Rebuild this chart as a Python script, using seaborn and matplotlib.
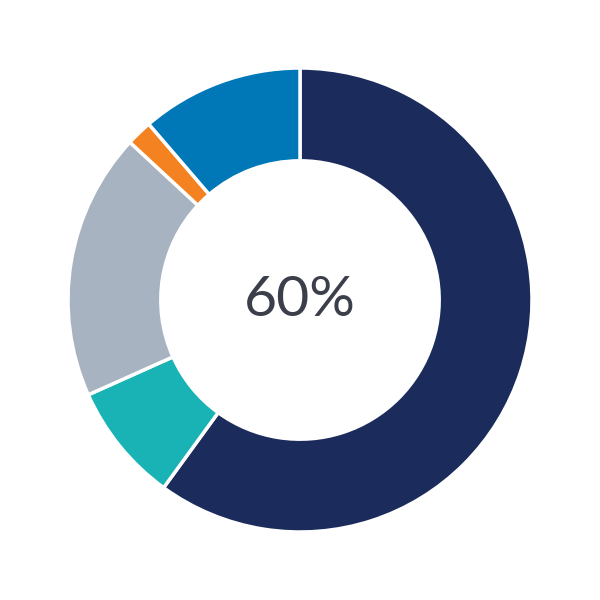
import matplotlib
matplotlib.use("Agg")
import matplotlib.pyplot as plt
import seaborn as sns

# slice shares, clockwise from 12 o'clock
segments = ["navy", "teal", "gray", "orange", "blue"]
shares = [60, 8.3, 18.6, 1.8, 11.3]
colors = ["#1b2b5b", "#1ab3b5", "#a8b3c1", "#f58220", "#0077b6"]
center_label = "60%"

sns.set_theme(style="white")
plt.rcParams['font.family'] = ['Lato', 'DejaVu Sans']

fig = plt.figure(figsize=(6, 6), dpi=100)
ax = fig.add_axes([0, 0, 1, 1])
ax.pie(shares, colors=sns.color_palette(colors), startangle=90, counterclock=False,
       radius=1.0,
       wedgeprops=dict(width=0.40, edgecolor="white", linewidth=2.5))
ax.text(0, 0, center_label, ha="center", va="center", fontsize=41,
        fontweight="normal", color="#3a3f4a")
lim = 300 / 232
ax.set_xlim(-lim, lim)
ax.set_ylim(-lim, lim)
ax.set_aspect("equal")
ax.axis("off")
fig.savefig("out.png", dpi=100, facecolor="white")
